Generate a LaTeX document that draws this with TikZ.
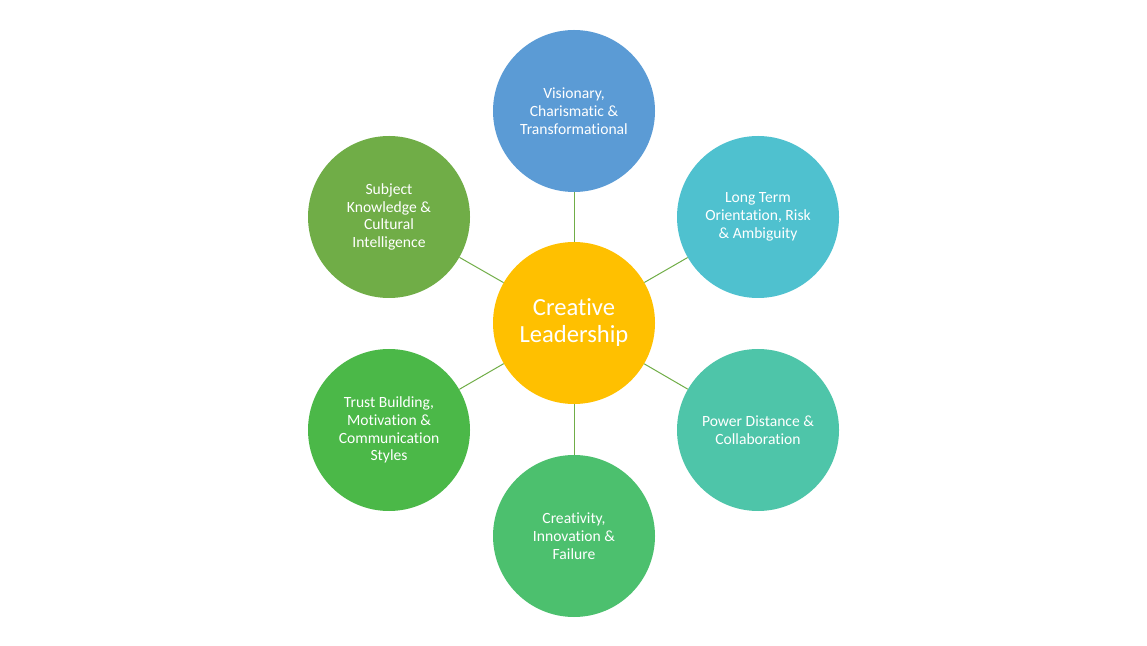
\documentclass[tikz,border=0pt]{standalone}
\usepackage{fontspec}
\setmainfont{Carlito}[Ligatures=NoCommon]
\usepackage{xcolor}
\usetikzlibrary{positioning}

\definecolor{hubyellow}{HTML}{FFC000}
\definecolor{visblue}{HTML}{5B9BD5}
\definecolor{longcyan}{HTML}{4FC1CF}
\definecolor{powerteal}{HTML}{4EC5A9}
\definecolor{creatgreen}{HTML}{4CC06E}
\definecolor{trustgreen}{HTML}{4BB848}
\definecolor{subjgreen}{HTML}{70AD47}
\definecolor{spokeline}{HTML}{70AD47}

\tikzset{
  petal/.style={circle, minimum size=162pt, inner sep=0pt, text=white, align=center, font=\fontsize{15.6}{17.8}\selectfont},
  hub/.style={circle, minimum size=162pt, inner sep=0pt, fill=hubyellow, text=white, align=center, font=\fontsize{24.6}{27}\selectfont},
  spoke/.style={draw=spokeline, line width=1pt}
}

\begin{document}
\begin{tikzpicture}[x=1pt, y=1pt]
\useasboundingbox (0,0) rectangle (1147,645);
% Define the entities
\node (hub) at (574,322) [hub] {Creative\\Leadership};
\node (vision) at (574,534) [petal, fill=visblue] {Visionary,\\Charismatic \&\\Transformational};
\node (longterm) at (758,428) [petal, fill=longcyan] {Long Term\\Orientation, Risk\\\& Ambiguity};
\node (power) at (758,215) [petal, fill=powerteal] {Power Distance \&\\Collaboration};
\node (creativity) at (574,109) [petal, fill=creatgreen] {Creativity,\\Innovation \&\\Failure};
\node (trust) at (389,215) [petal, fill=trustgreen] {Trust Building,\\Motivation \&\\Communication\\Styles};
\node (subject) at (389,428) [petal, fill=subjgreen] {Subject\\Knowledge \&\\Cultural\\Intelligence};

% Spokes
\foreach \petalname in {vision,longterm,power,creativity,trust,subject}
  \draw [spoke] (hub) -- (\petalname);
\end{tikzpicture}
\end{document}
